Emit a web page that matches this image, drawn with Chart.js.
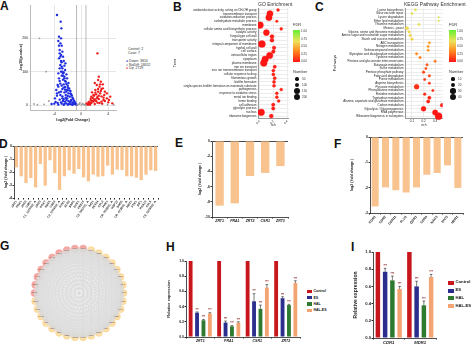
<!DOCTYPE html>
<html>
<head>
<meta charset="utf-8">
<script src="https://cdn.jsdelivr.net/npm/chart.js@4.4.1/dist/chart.umd.min.js"></script>
<style>
body { margin: 0; width: 474px; height: 349px; overflow: hidden; background: #fff; position: relative;
       font-family: 'Liberation Sans', Arial, sans-serif; }
canvas { position: absolute; }
.lt { position: absolute; font-weight: bold; font-size: 12px; line-height: 12px; color: #111; }
.s { position: absolute; font-size: 3.5px; line-height: 4px; color: #333; white-space: nowrap; }
.b { font-weight: bold; color: #111; }
</style>
</head>
<body>
<div class="lt" style="left:0px;top:0px">A</div>
<div class="lt" style="left:173px;top:1px">B</div>
<div class="lt" style="left:315px;top:1px">C</div>
<div class="lt" style="left:-1px;top:138px">D</div>
<div class="lt" style="left:175px;top:137px">E</div>
<div class="lt" style="left:334px;top:138px">F</div>
<div class="lt" style="left:0px;top:240px">G</div>
<div class="lt" style="left:166px;top:241px">H</div>
<div class="lt" style="left:351px;top:241px">I</div>

<canvas id="volcano" width="106" height="122" style="left:14px;top:0px"></canvas>
<div class="s" style="left:128px;top:47px">Control: 2<br>Case: 7</div>
<div id="volcanoLegend"></div>

<canvas id="goChart" width="128" height="127" style="left:165px;top:0px"></canvas>
<div class="s" style="left:258px;top:1px;font-size:5px;line-height:6px">GO Enrichment</div>
<div id="goLegend"></div>

<canvas id="keggChart" width="127" height="127" style="left:320px;top:0px"></canvas>
<div class="s" style="left:404px;top:1px;font-size:5px;line-height:6px">KEGG Pathway Enrichment</div>
<div id="keggLegend"></div>

<canvas id="degChart" width="158" height="90" style="left:2px;top:140px"></canvas>
<canvas id="zincChart" width="104" height="100" style="left:188px;top:128px"></canvas>
<canvas id="effluxChart" width="122" height="112" style="left:345px;top:125px"></canvas>
<canvas id="netChart" width="120" height="120" style="left:19px;top:233px"></canvas>
<canvas id="hChart" width="142" height="99" style="left:160px;top:250px"></canvas>
<div id="hLegend"></div>
<canvas id="iChart" width="96" height="109" style="left:345px;top:240px"></canvas>
<div id="iLegend"></div>

<script>
// ---------- A: volcano (log2FC, -log10 p) ----------
const volcanoDown = [[-3.6,270],[-3.05,250],[-2.95,230],[-3.3,205],[-3.0,200],[-3.1,185],[-2.9,178],[-3.2,165],
  [-2.8,160],[-3.0,150],[-2.7,145],[-3.3,140],[-2.6,132],[-2.9,128],[-2.35,125],[-3.1,120],[-2.5,118],[-2.8,110],
  [-2.4,105],[-3.0,100],[-2.6,98],[-2.7,95],[-2.2,92],[-2.9,88],[-2.5,85],[-2.1,80],[-2.7,76],[-3.2,72],[-2.3,70],
  [-1.9,66],[-2.6,62],[-3.5,60],[-2.0,58],[-3.4,55],[-2.4,54],[-1.8,50],[-2.8,48],[-2.1,45],[-3.7,45],[-1.6,42],
  [-3.0,40],[-2.5,38],[-1.9,35],[-1.5,32],[-2.3,30],[-3.6,28],[-2.8,26],[-1.7,25],[-1.3,22],[-2.1,20],[-3.9,20],
  [-2.6,18],[-3.2,16],[-1.5,15],[-1.1,13],[-1.9,12],[-2.4,10],[-3.8,9],[-1.3,8],[-0.9,6],[-1.7,6],[-2.2,5],
  [-2.9,4],[-4.4,3],[-1.1,3],[-0.8,2],[-1.5,2],[-2.0,1],[-3.4,1],[-0.7,1],[-1.3,0.5],[-2.6,0.5],
  [-1.0,10],[-1.2,18],[-1.4,28],[-1.6,35],[-1.8,44],[-2.0,52],[-2.2,63],[-2.4,72],[-2.5,80],[-2.7,88],[-2.8,100],
  [-2.9,115],[-3.0,132],[-3.1,145],[-3.2,155],[-3.3,178],[-3.4,192],[-2.2,40],[-2.4,46],[-2.6,52],[-2.9,58],
  [-3.1,64],[-3.3,80],[-3.4,95],[-3.2,110],[-2.0,27],[-2.3,22],[-2.7,12],[-3.0,8],[-3.5,6],[-4.0,4],[-1.8,3],
  [-1.6,11],[-2.5,3],[-3.1,30],[-3.3,38],[-1.2,5],[-2.2,15],[-2.8,20],[-3.6,35]];
const volcanoUp = [[0.9,2],[1.2,4],[1.5,6],[1.1,9],[1.8,10],[2.2,12],[1.4,14],[2.0,17],[2.6,18],[1.7,21],[2.4,24],
  [3.0,26],[1.9,28],[2.2,32],[2.8,35],[3.4,30],[2.5,40],[2.1,45],[3.0,48],[2.7,55],[2.3,60],[3.2,62],[2.9,70],
  [2.5,75],[3.5,12],[4.0,8],[4.6,5],[3.8,20],[1.3,1],[1.0,1],[2.0,3],[2.7,6],[3.1,4],[0.8,5],[1.6,38],[2.6,85],
  [2.4,155],[3.3,15],[4.3,25],[1.5,25],[1.1,5],[1.3,7],[1.6,12],[1.9,15],[2.3,20],[2.6,28],[2.9,42],[3.2,50],
  [2.8,62],[3.5,40],[3.8,35],[4.1,15],[2.4,7],[3.0,10],[1.8,30],[2.1,37],[2.5,48],[3.3,22],[1.4,19],[2.0,66]];
const volcanoNoDiff = [[-0.5,1],[0.3,2],[0.0,0.5],[-0.3,3],[0.5,1],[-6.5,1],[-5.5,2],[4.8,1],[3.9,1],[-0.2,6],
  [0.2,4],[-0.6,0.3],[0.6,0.2],[-6.2,200],[-5.2,100],[-4.8,12],[-7.0,3]];
const volcanoFcCut = [-0.7, 0.7];
const volcanoXTicks = [-4, 0, 4];
const volcanoYTicks = [0, 100, 200];
const volcanoCounts = { Down: 3814, NoDiff: 18052, Up: 2729 };

// ---------- B: GO enrichment ----------
const goTerms = ['oxidoreductase activity, acting on CH-OH group','transmembrane transport','oxidation-reduction process',
  'carbohydrate metabolic process','membrane','cellular amino acid biosynthetic process','catalytic activity',
  'fungal-type cell wall','transporter activity','integral component of membrane','hyphal cell wall','cell surface',
  'extracellular region','cytoplasm','plasma membrane','iron ion transport','zinc ion transmembrane transport',
  'cellular response to drug','filamentous growth','biofilm formation',
  'single-species biofilm formation on inanimate substrate','pathogenesis','response to oxidative stress',
  'metal ion binding','heme binding','cell adhesion','glycolytic process','nucleus','ribosome biogenesis'];
const goRich = [0.267,0.151,0.137,0.25,0.01,0.313,0.10,0.18,0.18,0.036,0.21,0.20,0.147,0.082,0.063,0.22,0.20,
  0.20,0.22,0.21,0.21,0.313,0.25,0.25,0.276,0.198,0.198,0.026,0.17];
const goCount = [40,170,180,30,200,40,160,70,70,220,60,60,180,190,200,50,45,45,45,45,45,40,40,40,40,55,55,200,70];
const goFdr = [0.04,0.01,0.01,0.05,0.0,0.05,0.01,0.02,0.02,0.0,0.03,0.03,0.01,0.0,0.0,0.03,0.03,0.03,0.03,0.03,
  0.03,0.05,0.04,0.04,0.05,0.03,0.03,0.0,0.02];
const goXTicks = [0, 0.1, 0.2, 0.3, 0.4];
const goNumberLegend = [50, 100, 150, 200];

// ---------- C: KEGG enrichment ----------
const keggPathways = ['Lysine biosynthesis','Base excision repair','Lysine degradation','Ether lipid metabolism',
  'Thiamine metabolism','Meiosis - yeast','Glycine, serine and threonine metabolism',
  'Amino sugar and nucleotide sugar metabolism','Starch and sucrose metabolism','ABC transporters',
  'Nitrogen metabolism','Selenocompound metabolism','Glyoxylate and dicarboxylate metabolism','Tyrosine metabolism',
  'Pentose and glucuronate interconversions','Butanoate metabolism','Sulfur metabolism','Pentose phosphate pathway',
  'Fatty acid degradation','Purine metabolism','Arginine biosynthesis','Pyruvate metabolism',
  'Phenylalanine metabolism','Histidine metabolism','Tryptophan metabolism',
  'Alanine, aspartate and glutamate metabolism','Carbon metabolism','Glycolysis / Gluconeogenesis',
  'RNA polymerase','Ribosome biogenesis in eukaryotes'];
const keggRich = [0.13,0.10,0.33,0.33,0.16,0.057,0.075,0.085,0.10,0.25,0.24,0.24,0.14,0.17,0.30,0.23,0.22,0.20,
  0.25,0.21,0.25,0.14,0.28,0.21,0.25,0.24,0.36,0.20,0.30,0.33];
const keggCount = [6,6,3,3,6,12,8,8,8,6,6,6,7,7,6,7,6,8,7,6,6,25,6,8,12,12,15,25,30,50];
const keggFdr = [0.68,0.66,0.7,0.7,0.66,0.62,0.62,0.62,0.6,0.42,0.4,0.4,0.36,0.3,0.28,0.22,0.2,0.16,0.14,0.12,
  0.1,0.08,0.08,0.06,0.05,0.04,0.03,0.02,0.01,0.0];
const keggXTicks = [0.1, 0.2, 0.3];
const keggNumberLegend = [10, 20, 30, 40];

// ---------- D: down-regulated genes ----------
const degGenes = ['ZRT1','PRA1','ZRT2','CSR1','C1_13700W_A','ZRT3','PGA7','RBT5','CSA2','C3_07040W_A','HYR1',
  'ALS3','SAP5','ECE1','FRE10','C2_03570C_A','IHD1','FET34','CFL2','PHR1','CR_00260C_A','HSP12','SOD5',
  'CR_07280C_A','RBT1','FTR1','SIT1','PGA10','CFL5','C6_03780W_A'];
const degLog2FC = [-1.64,-2.33,-2.85,-2.46,-3.18,-1.38,-3.05,-1.10,-2.08,-3.38,-2.33,-1.87,-2.13,-1.77,-2.41,
  -2.72,-2.20,-2.36,-2.33,-1.51,-2.20,-1.82,-1.85,-2.33,-2.33,-2.44,-2.62,-2.20,-1.87,-1.92];

// ---------- E: zinc genes ----------
const zincGenes = ['ZRT1','PRA1','ZRT2','CSR1','ZRT3'];
const zincLog2FC = [-8.5,-8.2,-4.6,-4.2,-3.3];

// ---------- F: efflux genes ----------
const effluxGenes = ['CDR1','CDR2','CDR11','FLU1','QDR1','CDR4','NAG3','TPO3','MDR1'];
const effluxLog2FC = [-2.74,-1.99,-2.10,-2.19,-1.99,-1.49,-1.42,-1.12,-2.01];

// ---------- G: network ----------
const netNodes = ['ZRT1','PRA1','ZRT2','CSR1','ZRT3','PGA7','RBT5','CSA2','HYR1','ALS3','SAP5','ECE1','FRE10',
  'IHD1','FET34','CFL2','PHR1','HSP12','SOD5','RBT1','FTR1','SIT1','PGA10','CFL5','CDR1','CDR2','CDR11','FLU1',
  'QDR1','CDR4','NAG3','TPO3','MDR1','HGT1'];
const netGroup = ['hub','low','low','low','low','low','low','low','low','low','low','low','low','low','low','low',
  'low','low','low','low','low','low','low','low','low','hub','hub','hub','hub','hub','hub','hub','hub','hub'];

// ---------- H / I: qPCR ----------
const treatments = ['Control', 'ES', 'HAL', 'HAL-ES'];
const hGenes = ['ZRT1', 'PRA1', 'CSR1', 'ZRT2'];
const hValues = [[1, 1, 1, 1], [0.32, 0.19, 0.47, 0.51], [0.22, 0.14, 0.37, 0.42], [0.31, 0.19, 0.65, 0.71]];
const hErrors = [[0, 0, 0, 0], [0.01, 0.02, 0.10, 0.02], [0.01, 0.01, 0.05, 0.01], [0.01, 0.01, 0.04, 0.03]];
const iGenes = ['CDR1', 'MDR1'];
const iValues = [[1, 1], [0.77, 0.60], [0.67, 0.38], [0.57, 0.71]];
const iErrors = [[0, 0], [0.04, 0.06], [0.05, 0.05], [0.03, 0.03]];
const sigMark = '***';

Chart.defaults.font.family = "'Liberation Sans', Arial, sans-serif";
Chart.defaults.color = '#222';
Chart.defaults.animation = false;
Chart.defaults.plugins.legend.display = false;
Chart.defaults.plugins.tooltip.enabled = false;

const treatmentColors = ['#c8161d', '#2b2e8c', '#2e7a30', '#f2a572'];
const peach = '#f9c38f';

function fdrColor(f) {
    const stops = [[0, [255, 20, 20]], [0.35, [255, 140, 30]], [0.65, [238, 226, 90]], [1, [100, 240, 50]]];
    for (let k = 1; k < stops.length; k++) {
        if (f <= stops[k][0]) {
            const [a, ca] = stops[k - 1], [b, cb] = stops[k];
            const t = (f - a) / (b - a);
            return 'rgb(' + ca.map((c, m) => Math.round(c + (cb[m] - c) * t)).join(',') + ')';
        }
    }
    return 'rgb(100,240,50)';
}
const fdrGradient = 'linear-gradient(to top, rgb(255,20,20) 0%, rgb(255,140,30) 35%, rgb(238,226,90) 65%, rgb(100,240,50) 100%)';

const setTicks = list => scale => { scale.ticks = list.map(v => ({ value: v })); };

// error bars + significance marks for the qPCR bars
const errorBarPlugin = {
    id: 'errorBars',
    afterDatasetsDraw(chart, args, opts) {
        const ctx = chart.ctx;
        const y = chart.scales.y;
        chart.data.datasets.forEach((ds, i) => {
            const meta = chart.getDatasetMeta(i);
            meta.data.forEach((bar, j) => {
                const v = ds.data[j], e = ds.errors[j];
                const top = y.getPixelForValue(v + e);
                ctx.save();
                ctx.strokeStyle = '#222';
                ctx.lineWidth = 0.6;
                if (e > 0) {
                    ctx.beginPath();
                    ctx.moveTo(bar.x, bar.y);
                    ctx.lineTo(bar.x, top);
                    ctx.moveTo(bar.x - 1.3, top);
                    ctx.lineTo(bar.x + 1.3, top);
                    ctx.stroke();
                }
                if (ds.sig) {
                    ctx.fillStyle = '#8a1c1c';
                    ctx.font = 'bold ' + opts.size + 'px Liberation Sans';
                    ctx.textAlign = 'center';
                    ctx.fillText(ds.sig, bar.x, top - 1.2);
                }
                ctx.restore();
            });
        });
    }
};

function createVolcano() {
    const toPts = arr => arr.map(p => ({ x: p[0], y: p[1] }));
    new Chart(document.getElementById('volcano'), {
        type: 'scatter',
        data: {
            datasets: [
                { label: 'NoDiff', data: toPts(volcanoNoDiff), backgroundColor: '#9a9a9a', pointRadius: 0.9, borderWidth: 0 },
                { label: 'Down', data: toPts(volcanoDown), backgroundColor: '#1f2de0', pointRadius: 1.2, borderWidth: 0 },
                { label: 'Up', data: toPts(volcanoUp), backgroundColor: '#ee1c1c', pointRadius: 1.2, borderWidth: 0 },
                { data: [{ x: volcanoFcCut[0], y: -15 }, { x: volcanoFcCut[0], y: 300 }], showLine: true,
                  borderColor: '#888', borderWidth: 0.6, pointRadius: 0 },
                { data: [{ x: volcanoFcCut[1], y: -15 }, { x: volcanoFcCut[1], y: 300 }], showLine: true,
                  borderColor: '#888', borderWidth: 0.6, pointRadius: 0 }
            ]
        },
        options: {
            responsive: false,
            devicePixelRatio: 1,
            layout: { padding: { top: 5, right: 3 } },
            scales: {
                x: {
                    min: -7.6, max: 5.15,
                    afterBuildTicks: setTicks(volcanoXTicks),
                    afterFit: s => { s.height = 12; },
                    grid: { color: '#e6e6e6', tickLength: 1.5 },
                    border: { color: '#bbb' },
                    ticks: { font: { size: 3.5 }, padding: 0.5 },
                    title: { display: true, text: 'log2(Fold Change)', font: { size: 3.8, weight: 'bold' }, padding: 0 }
                },
                y: {
                    min: -15, max: 300,
                    afterBuildTicks: setTicks(volcanoYTicks),
                    afterFit: s => { s.width = 16; },
                    grid: { color: '#e6e6e6', tickLength: 1.5 },
                    border: { color: '#bbb' },
                    ticks: { font: { size: 3.5 }, padding: 0.5 },
                    title: { display: true, text: '-log10(p-value)', font: { size: 3.8, weight: 'bold' }, padding: { top: 5, bottom: 0 } }
                }
            }
        }
    });
    const colors = { Down: '#1f2de0', NoDiff: '#9a9a9a', Up: '#ee1c1c' };
    let html = '';
    Object.keys(volcanoCounts).forEach((k, n) => {
        html += '<div class="s" style="left:126px;top:' + (59 + n * 3.6) + 'px"><span style="color:' + colors[k] +
            '">&#9679;</span> ' + k + ': ' + volcanoCounts[k] + '</div>';
    });
    document.getElementById('volcanoLegend').innerHTML = html;
}

function createEnrichment(id, terms, rich, counts, fdr, xTicks, xMin, xMax, yWidth, yTitle, titlePad, radius) {
    new Chart(document.getElementById(id), {
        type: 'bubble',
        data: {
            datasets: [{
                data: terms.map((t, i) => ({ x: rich[i], y: t, r: radius(counts[i]) })),
                backgroundColor: fdr.map(fdrColor),
                borderColor: fdr.map(fdrColor),
                borderWidth: 0.3
            }]
        },
        options: {
            responsive: false,
            devicePixelRatio: 1,
            layout: { padding: { top: 8, right: 4 } },
            scales: {
                x: {
                    min: xMin, max: xMax,
                    afterBuildTicks: setTicks(xTicks),
                    afterFit: s => { s.height = 9; },
                    grid: { color: '#ececec', tickLength: 1 },
                    border: { color: '#999' },
                    ticks: { font: { size: 3 }, padding: 0.5, callback: v => v.toFixed(1) },
                    title: { display: true, text: 'rich', font: { size: 3.2 }, padding: 0 }
                },
                y: {
                    type: 'category',
                    labels: terms,
                    offset: true,
                    afterFit: s => { s.width = yWidth; },
                    grid: { color: '#ececec', tickLength: 1 },
                    border: { color: '#999' },
                    ticks: { font: { size: 3 }, padding: 0.5, autoSkip: false },
                    title: { display: true, text: yTitle, font: { size: 3.8 }, padding: { top: titlePad, bottom: 0 } }
                }
            }
        }
    });
}

function buildEnrichLegend(id, left, numbers, radius) {
    let html = '<div class="s" style="left:' + left + 'px;top:22px;font-size:4px;line-height:5px">FDR</div>';
    html += '<div style="position:absolute;left:' + left + 'px;top:30px;width:7px;height:32px;background:' + fdrGradient + '"></div>';
    [1, 0.75, 0.5, 0.25, 0].forEach(v => {
        html += '<div class="s" style="left:' + (left + 8) + 'px;top:' + (29 + (1 - v) * 30) + 'px;font-size:3px">' + v.toFixed(2) + '</div>';
    });
    html += '<div class="s" style="left:' + left + 'px;top:69px;font-size:4px;line-height:5px">Number</div>';
    numbers.forEach((n, k) => {
        const r = radius(n), cy = 79 + k * 6;
        html += '<div style="position:absolute;left:' + (left + 4 - r) + 'px;top:' + (cy - r) + 'px;width:' + (2 * r) +
            'px;height:' + (2 * r) + 'px;border-radius:50%;background:#111"></div>';
        html += '<div class="s" style="left:' + (left + 9) + 'px;top:' + (cy - 2) + 'px;font-size:3px">' + n + '</div>';
    });
    document.getElementById(id).innerHTML = html;
}

function createDownBars(id, labels, values, opt) {
    new Chart(document.getElementById(id), {
        type: 'bar',
        data: {
            labels: labels,
            datasets: [{ data: values, backgroundColor: peach, barPercentage: opt.barPct, categoryPercentage: 1 }]
        },
        options: {
            responsive: false,
            devicePixelRatio: 1,
            layout: { padding: { top: opt.top, right: opt.right } },
            scales: {
                x: {
                    afterFit: s => { s.height = opt.xHeight; },
                    grid: { display: true, drawOnChartArea: false, tickLength: 1.5, color: '#222' },
                    border: { display: opt.bottomLine, color: '#222', width: 0.8 },
                    ticks: { font: { size: opt.xFont, style: opt.italic ? 'italic' : 'normal', weight: 'bold' },
                             padding: 0.5, minRotation: opt.rot, maxRotation: opt.rot, autoSkip: false }
                },
                y: {
                    min: opt.min, max: 0,
                    ticks: { stepSize: opt.step, font: { size: 3.5, weight: 'bold' }, padding: 0.5 },
                    afterFit: s => { s.width = opt.yWidth; },
                    grid: {
                        drawOnChartArea: true, tickLength: 1.5, tickColor: '#222', lineWidth: 0.9,
                        color: c => (c.tick && c.tick.value === 0) ? '#333' : 'rgba(0,0,0,0)'
                    },
                    border: { color: '#222', width: 0.8 },
                    title: { display: true, text: 'log2 ( fold change )', font: { size: 3.5, weight: 'bold' },
                             padding: { top: opt.titlePad, bottom: 0 } }
                }
            }
        }
    });
}

function createNetwork() {
    const n = netNodes.length;
    const pos = netNodes.map((name, i) => {
        const a = Math.PI / 2 - (i + 0.5) * 2 * Math.PI / n;
        return { x: Math.cos(a), y: Math.sin(a) };
    });
    const edges = [];
    for (let i = 0; i < n; i++) {
        for (let j = i + 1; j < n; j++) {
            edges.push(pos[i], pos[j], { x: null, y: null });
        }
    }
    const nodeLabels = {
        id: 'nodeLabels',
        afterDatasetsDraw(chart) {
            const ctx = chart.ctx;
            ctx.save();
            ctx.font = '1.8px Liberation Sans';
            ctx.fillStyle = '#7a4a3a';
            ctx.textAlign = 'center';
            ctx.textBaseline = 'middle';
            chart.getDatasetMeta(1).data.forEach((pt, i) => ctx.fillText(netNodes[i], pt.x, pt.y));
            ctx.restore();
        }
    };
    new Chart(document.getElementById('netChart'), {
        type: 'scatter',
        data: {
            datasets: [
                { data: edges, showLine: true, spanGaps: false, borderColor: '#d9d9d9', borderWidth: 0.35, pointRadius: 0 },
                { data: pos, pointRadius: 3.6, borderWidth: 0.4,
                  backgroundColor: netGroup.map(g => g === 'hub' ? '#f6aaa6' : '#fde0a6'),
                  borderColor: netGroup.map(g => g === 'hub' ? '#ee8f8a' : '#f5c77c') },
                { data: [{ x: 0, y: 0 }], pointRadius: 0.5, backgroundColor: '#777', borderWidth: 0 }
            ]
        },
        options: {
            responsive: false,
            devicePixelRatio: 1,
            layout: { padding: 0 },
            scales: {
                x: { display: false, min: -1.25, max: 1.25 },
                y: { display: false, min: -1.25, max: 1.25 }
            }
        },
        plugins: [nodeLabels]
    });
}

function createQpcr(id, genes, values, errors, opt) {
    const chart = new Chart(document.getElementById(id), {
        type: 'bar',
        data: {
            labels: genes,
            datasets: treatments.map((t, k) => ({
                label: t,
                data: values[k],
                errors: errors[k],
                sig: k === 0 ? '' : sigMark,
                backgroundColor: treatmentColors[k],
                barPercentage: opt.barPct,
                categoryPercentage: opt.catPct
            }))
        },
        options: {
            responsive: false,
            devicePixelRatio: 1,
            layout: { padding: { top: opt.top, right: opt.right } },
            plugins: { errorBars: { size: opt.sigSize } },
            scales: {
                x: {
                    afterFit: s => { s.height = opt.xHeight; },
                    grid: { display: true, drawOnChartArea: false, tickLength: 1.5, color: '#222' },
                    border: { color: '#222', width: 0.8 },
                    ticks: { font: { size: opt.font, style: 'italic', weight: 'bold' }, padding: 0.5 }
                },
                y: {
                    min: 0, max: 1,
                    ticks: { stepSize: 0.2, font: { size: opt.font, weight: 'bold' }, padding: 0.5, callback: v => v.toFixed(1) },
                    afterFit: s => { s.width = opt.yWidth; },
                    grid: { display: true, drawOnChartArea: false, tickLength: 1.5, color: '#222' },
                    border: { color: '#222', width: 0.8 },
                    title: { display: true, text: 'Relative expression', font: { size: opt.titleSize, weight: 'bold' },
                             padding: { top: opt.titlePad, bottom: 0 } }
                }
            }
        },
        plugins: [errorBarPlugin]
    });
    let html = '';
    chart.data.datasets.forEach((ds, k) => {
        const top = opt.legTop + k * opt.legStep;
        html += '<div style="position:absolute;left:' + opt.legLeft + 'px;top:' + top + 'px;width:' + opt.box +
            'px;height:' + (opt.box * 0.7) + 'px;background:' + ds.backgroundColor + '"></div>';
        html += '<div class="s b" style="left:' + (opt.legLeft + opt.box + 2) + 'px;top:' + (top - 0.6) +
            'px;font-size:' + opt.legFont + 'px">' + ds.label + '</div>';
    });
    document.getElementById(opt.legend).innerHTML = html;
}

createVolcano();
createEnrichment('goChart', goTerms, goRich, goCount, goFdr, goXTicks, -0.02, 0.42, 93, 'Term', 8, n => 0.24 * Math.sqrt(n));
buildEnrichLegend('goLegend', 293, goNumberLegend, n => 0.24 * Math.sqrt(n));
createEnrichment('keggChart', keggPathways, keggRich, keggCount, keggFdr, keggXTicks, 0.04, 0.365, 85, 'Pathways', 13, n => 0.5 * Math.sqrt(n));
buildEnrichLegend('keggLegend', 449, keggNumberLegend, n => 0.5 * Math.sqrt(n));
createDownBars('degChart', degGenes, degLog2FC, { barPct: 0.68, top: 6, right: 2, xHeight: 32, xFont: 3, italic: false,
    rot: 55, bottomLine: false, min: -4, step: 1, yWidth: 12, titlePad: 2 });
createDownBars('zincChart', zincGenes, zincLog2FC, { barPct: 0.55, top: 13, right: 4, xHeight: 11, xFont: 3.5, italic: true,
    rot: 0, bottomLine: true, min: -10, step: 2, yWidth: 24, titlePad: 10 });
createDownBars('effluxChart', effluxGenes, effluxLog2FC, { barPct: 0.68, top: 12, right: 4, xHeight: 24, xFont: 3.3, italic: false,
    rot: 50, bottomLine: true, min: -3, step: 1, yWidth: 25, titlePad: 5 });
createNetwork();
createQpcr('hChart', hGenes, hValues, hErrors, { barPct: 0.6, catPct: 0.9, top: 11, right: 2, xHeight: 12, font: 3.5,
    yWidth: 26, titleSize: 4, titlePad: 6, sigSize: 2.8, legend: 'hLegend', legLeft: 307, legTop: 290, legStep: 6.2,
    box: 4.5, legFont: 3.5 });
createQpcr('iChart', iGenes, iValues, iErrors, { barPct: 0.62, catPct: 0.92, top: 12, right: 5, xHeight: 11, font: 4.2,
    yWidth: 28, titleSize: 5, titlePad: 8, sigSize: 3, legend: 'iLegend', legLeft: 448, legTop: 281, legStep: 7.7,
    box: 5.5, legFont: 4.2 });
</script>
</body>
</html>
